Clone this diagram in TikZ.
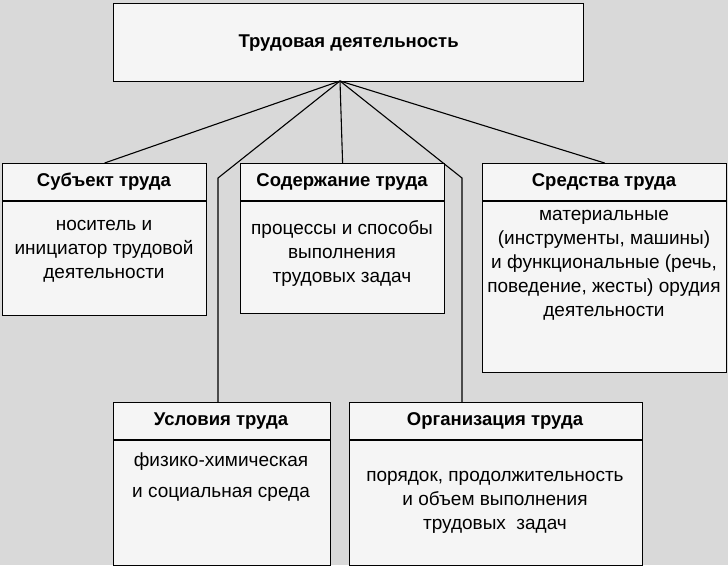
\documentclass[tikz,border=0pt]{standalone}
\usepackage{fontspec}
\setmainfont{Liberation Sans}
\begin{document}
\begin{tikzpicture}[x=1pt,y=-1pt,
  box/.style={draw,line width=1.2pt,fill=white!92!gray,anchor=north west,inner sep=0pt},
  hd/.style={font=\bfseries\fontsize{18.5}{22}\selectfont,anchor=center},
  tx/.style={font=\fontsize{19}{24}\selectfont,align=center,anchor=north},
  ln/.style={line width=1.1pt}]
\fill[gray!30] (0,0) rectangle (728,565);
\useasboundingbox (0,0) rectangle (728,565);
% boxes
\node[box,minimum width=470pt,minimum height=78pt] (top) at (113,3) {};
\node[hd] (topt) at (top.center) {Трудовая деятельность};
\node[box,minimum width=204pt,minimum height=152pt] (s) at (2,163) {};
\node[box,minimum width=204pt,minimum height=150pt] (c) at (240,163) {};
\node[box,minimum width=244pt,minimum height=209pt] (m) at (482,163) {};
\node[box,minimum width=217pt,minimum height=163pt] (u) at (113,402) {};
\node[box,minimum width=293pt,minimum height=163pt] (o) at (349,402) {};
% header dividers
\draw[ln] (2,201) -- (206,201);
\draw[ln] (240,201) -- (444,201);
\draw[ln] (482,201) -- (726,201);
\draw[ln] (113,440) -- (330,440);
\draw[ln] (349,440) -- (642,440);
% headers
\node[hd] (sh) at (104,182) {Субъект труда};
\node[hd] (ch) at (342,182) {Содержание труда};
\node[hd] (mh) at (604,182) {Средства труда};
\node[hd] (uh) at (221,421) {Условия труда};
\node[hd] (oh) at (495,421) {Организация труда};
% texts
\node[tx] (st) at (104,217) {носитель и\\инициатор трудовой\\деятельности};
\node[tx] (ct) at (342,217) {процессы и способы\\выполнения\\трудовых задач};
\node[tx] (mt) at (604,207) {материальные\\(инструменты, машины)\\и функциональные (речь,\\поведение, жесты) орудия\\деятельности};
\node[tx,font=\fontsize{19}{31}\selectfont] (ut) at (221,449) {физико-химическая\\и социальная среда};
\node[tx] (ot) at (495,468) {порядок, продолжительность\\и объем выполнения\\трудовых\ \ задач};
% connectors
\coordinate (apex) at (340,81);
\coordinate (lb) at (218,178);
\coordinate (rb) at (462,178);
\draw[ln] (apex) -- (s.north);
\draw[ln] (apex) -- (c.north);
\draw[ln] (apex) -- (m.north);
\draw[ln] (apex) -- (lb) -- (lb |- u.north);
\draw[ln] (apex) -- (rb) -- (rb |- o.north);
\end{tikzpicture}
\end{document}
